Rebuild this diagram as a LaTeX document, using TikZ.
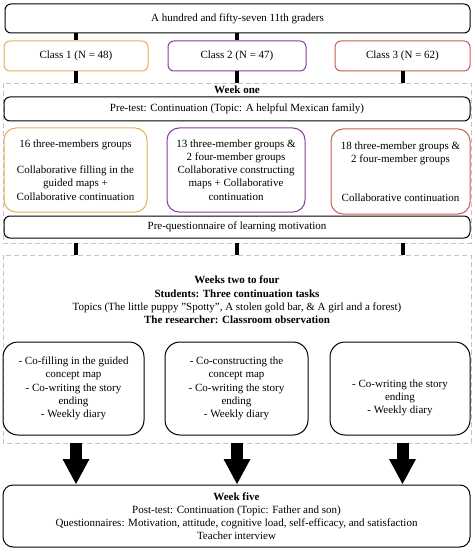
\documentclass[tikz,border=0pt]{standalone}
\usepackage{fontspec}
\setmainfont{Liberation Serif}
\usepackage{tikz}
\usetikzlibrary{arrows.meta, positioning}

\definecolor{cone}{HTML}{E3B05A}
\definecolor{ctwo}{HTML}{8A3AA2}
\definecolor{cthree}{HTML}{C46055}
\definecolor{dashgray}{HTML}{C4C4C4}

\tikzset{
    box/.style={draw, rounded corners=6pt, line width=1pt, align=center, inner sep=0pt},
    phase/.style={draw=dashgray, dashed, dash pattern=on 5pt off 3pt, line width=0.9pt},
    bar/.style={line width=4pt},
    bigarrow/.style={line width=12pt, -{Triangle[width=27pt, length=25pt, line width=0pt]}}
}

\begin{document}
\begin{tikzpicture}[x=1pt, y=-1pt, font=\fontsize{11}{13.2}\selectfont]
        \useasboundingbox (0,0) rectangle (474,553);

        % Phases
        \draw[phase] (3,83) rectangle (471,243);
        \draw[phase] (3,255) rectangle (471,443);

        % Students and classes
        \node[box, minimum width=465pt, minimum height=29pt] (all) at (237.5,18.5) {A hundred and fifty-seven 11th graders};
        \node[box, draw=cone, minimum width=144pt, minimum height=30pt] (c1) at (76,56) {Class 1 (N = 48)};
        \node[box, draw=ctwo, minimum width=138pt, minimum height=30pt] (c2) at (237,56) {Class 2 (N = 47)};
        \node[box, draw=cthree, minimum width=135pt, minimum height=30pt] (c3) at (402.5,56) {Class 3 (N = 62)};

        \draw[bar] (all.south -| c1) -- (c1.north);
        \draw[bar] (all.south -| c2) -- (c2.north);

        % Week one
        \node[font=\fontsize{11}{13.2}\selectfont\bfseries] (w1) at (237,90) {Week one};
        \node[box, minimum width=466pt, minimum height=24pt] (pre) at (237,109) {Pre-test: Continuation (Topic: A helpful Mexican family)};
        \node[box, draw=cone, rounded corners=12pt, minimum width=143pt, minimum height=84pt] (g1) at (75.5,170)
            {16 three-members groups\\[13pt]Collaborative filling in the\\guided maps +\\Collaborative continuation};
        \node[box, draw=ctwo, rounded corners=12pt, minimum width=138pt, minimum height=84pt] (g2) at (236,170)
            {13 three-member groups \&\\2 four-member groups\\Collaborative constructing\\maps + Collaborative\\continuation};
        \node[box, draw=cthree, rounded corners=12pt, minimum width=139pt, minimum height=85pt] (g3) at (400.5,171.5)
            {18 three-member groups \&\\2 four-member groups\\[26pt]Collaborative continuation};
        \node[box, minimum width=466pt, minimum height=22pt] (preq) at (237,227) {Pre-questionnaire of learning motivation};

        \coordinate (w1top) at (237,83);
        \coordinate (w1bot) at (237,243);
        \coordinate (w2top) at (237,255);
        \coordinate (w2bot) at (237,443);
        \foreach \c in {c1,c2,c3} {
            \draw[bar] (\c.south) -- (w1top -| \c);
            \draw[bar] (w1bot -| \c) -- (w2top -| \c);
        }

        % Weeks two to four
        \node[align=center, inner sep=0pt] (w24) at (237,300)
            {\textbf{Weeks two to four}\\\textbf{Students: Three continuation tasks}\\Topics (The little puppy \char34 Spotty\char34, A stolen gold bar, \& A girl and a forest)\\\textbf{The researcher: Classroom observation}};
        \node[box, rounded corners=15pt, minimum width=141pt, minimum height=93pt] (t1) at (73.5,388.5)
            {- Co-filling in the guided\\concept map\\- Co-writing the story\\ending\\- Weekly diary};
        \node[box, rounded corners=15pt, minimum width=143pt, minimum height=93pt] (t2) at (236.5,388.5)
            {- Co-constructing the\\concept map\\- Co-writing the story\\ending\\- Weekly diary};
        \node[box, rounded corners=15pt, minimum width=140pt, minimum height=93pt] (t3) at (400,388.5)
            {~\\~\\- Co-writing the story\\ending\\- Weekly diary};

        % Week five
        \node[box, rounded corners=10pt, minimum width=467pt, minimum height=62pt] (w5) at (236.5,516)
            {\textbf{Week five}\\Post-test: Continuation (Topic: Father and son)\\Questionnaires: Motivation, attitude, cognitive load, self-efficacy, and satisfaction\\Teacher interview};

        \coordinate (w5top) at (237,484);
        \foreach \c in {c1,c2,c3} {
            \draw[bigarrow] (w2bot -| \c) -- (w5top -| \c);
        }
    \end{tikzpicture}
\end{document}
